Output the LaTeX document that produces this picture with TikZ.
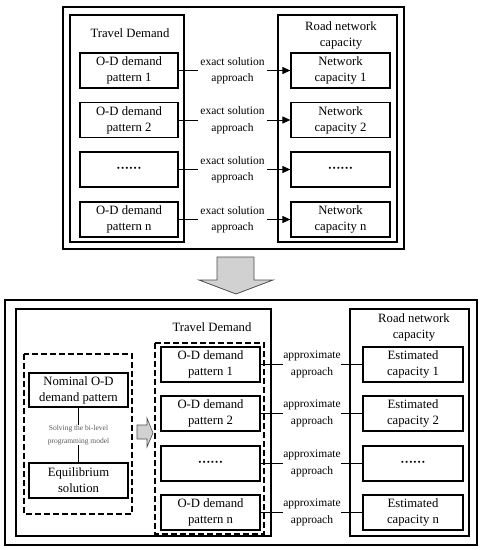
\documentclass[tikz,border=0pt]{standalone}
\usepackage{fontspec}
\setmainfont{Liberation Serif}
\usetikzlibrary{arrows.meta}
\begin{document}
\begin{tikzpicture}[x=1pt,y=-1pt,
  frame/.style={draw,line width=1.3pt},
  inner/.style={draw,line width=1.1pt},
  dbox/.style={draw,line width=1.2pt,dash pattern=on 6pt off 3pt},
  sbox/.style={draw,line width=1.2pt,minimum width=98pt,minimum height=35pt,inner sep=0pt,align=center,font=\fontsize{12.7}{16}\selectfont},
  lab/.style={inner sep=0pt,align=center,font=\fontsize{11.5}{16.5}\selectfont},
  ttl/.style={inner sep=0pt,align=center,font=\fontsize{12.7}{16}\selectfont},
  conn/.style={line width=1pt},
  arr/.style={line width=1pt,-{Triangle[length=8pt,width=7pt]}},
  bigarrow/.style={draw=black!70,line width=0.8pt,fill=black!18}]
\useasboundingbox (0,0) rectangle (480,550);
% ---------- top part ----------
\draw[frame] (63,7) rectangle (404,249);
\draw[inner] (70,15) rectangle (184,242);
\draw[inner] (278,15) rectangle (397,242);
\node[ttl] (tdA) at (130,33) {Travel Demand};
\node[ttl] (rnA) at (341,35.5) {Road network\\capacity};
\foreach \i/\y/\a/\b in {1/70.5/{O-D demand\\pattern 1}/{Network\\capacity 1},
                         2/120/{O-D demand\\pattern 2}/{Network\\capacity 2},
                         3/169.5/{\textbf{\textperiodcentered\textperiodcentered\textperiodcentered\textperiodcentered\textperiodcentered\textperiodcentered}}/{\textbf{\textperiodcentered\textperiodcentered\textperiodcentered\textperiodcentered\textperiodcentered\textperiodcentered}},
                         4/219.5/{O-D demand\\pattern n}/{Network\\capacity n}}{
  \node[sbox] (od\i) at (129,\y) {\a};
  \node[sbox,minimum width=99pt] (nc\i) at (340.5,\y) {\b};
  \node[lab,minimum width=69pt] (ex\i) at (232.5,\y) {exact solution\\approach};
  \draw[conn] (od\i.east) -- (ex\i.west);
  \draw[arr] (ex\i.east) -- (nc\i.west);
}
% ---------- big arrow ----------
\draw[bigarrow] (217,257) -- (254,257) -- (254,280) -- (273,280) -- (236,294) -- (199,280) -- (217,280) -- cycle;
% ---------- bottom part ----------
\draw[frame] (5,300) rectangle (477,545);
\draw[inner] (16,309) rectangle (271,536);
\draw[inner] (350,309) rectangle (469,536);
\node[ttl] (tdB) at (212,327) {Travel Demand};
\node[ttl] (rnB) at (414,327) {Road network\\capacity};
\draw[dbox] (24,354) rectangle (132,514);
\draw[dbox] (155,343) rectangle (264,534);
\node[sbox,minimum width=99pt,minimum height=34pt] (nom) at (78.5,390) {Nominal O-D\\demand pattern};
\node[sbox,minimum width=99pt] (eq) at (78.5,480.5) {Equilibrium\\solution};
\node[inner sep=0pt,align=center,text=black!65,font=\fontsize{7.5}{12.5}\selectfont] (solve) at (78.5,435) {Solving the bi-level\\programming model};
\draw[line width=1pt] (nom.south) -- (solve.north);
\draw[line width=1pt] (solve.south) -- (eq.north);
\draw[bigarrow,line width=0.6pt] (137,425) -- (147,425) -- (147,418) -- (153,433) -- (147,447) -- (147,439) -- (137,439) -- cycle;
\foreach \i/\y/\a/\b in {1/364.5/{O-D demand\\pattern 1}/{Estimated\\capacity 1},
                         2/413.5/{O-D demand\\pattern 2}/{Estimated\\capacity 2},
                         3/463.5/{\textbf{\textperiodcentered\textperiodcentered\textperiodcentered\textperiodcentered\textperiodcentered\textperiodcentered}}/{\textbf{\textperiodcentered\textperiodcentered\textperiodcentered\textperiodcentered\textperiodcentered\textperiodcentered}},
                         4/512.5/{O-D demand\\pattern n}/{Estimated\\capacity n}}{
  \node[sbox,minimum width=99pt] (md\i) at (210.5,\y) {\a};
  \node[sbox,minimum width=100pt] (ec\i) at (413,\y) {\b};
  \node[lab,minimum width=58pt] (ap\i) at (312,\y) {approximate\\approach};
  \draw[conn] (md\i.east) -- (ap\i.west);
  \draw[conn] (ap\i.east) -- (ec\i.west);
}
\end{tikzpicture}
\end{document}
